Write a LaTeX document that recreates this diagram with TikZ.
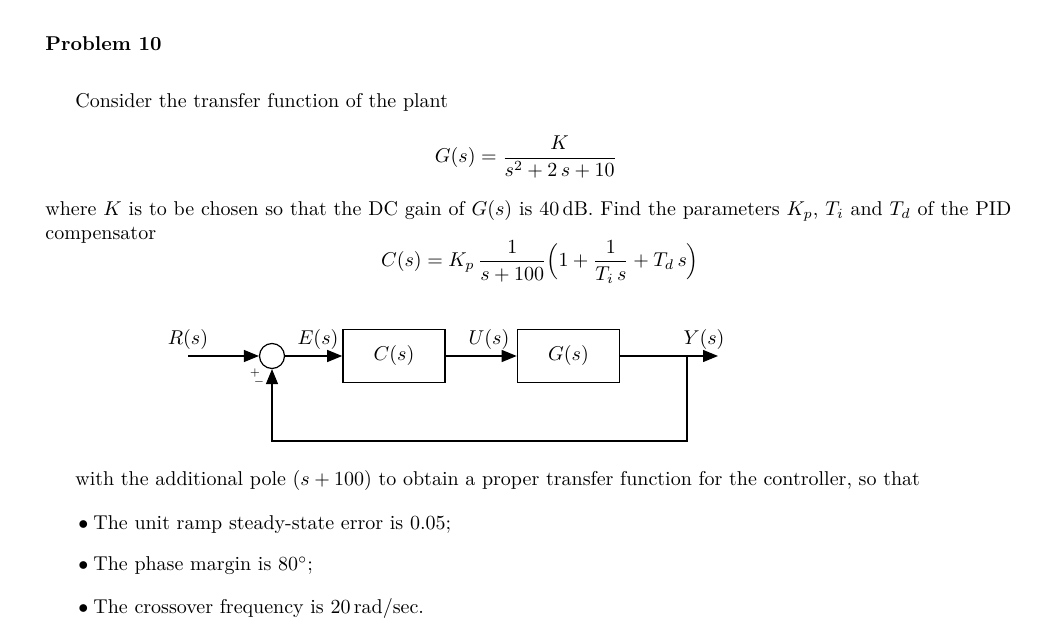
\documentclass[tikz,border=0pt]{standalone}
\usepackage{amsmath}
\usetikzlibrary{arrows.meta}
\begin{document}
\begin{tikzpicture}[x=0.5pt,y=-0.5pt,
  txt/.style={anchor=base west,inner sep=0},
  blk/.style={draw,line width=0.8pt,minimum width=51pt,minimum height=26.5pt,inner sep=0},
  sig/.style={line width=0.6pt},
  arr/.style={sig,-{Triangle[length=7.5pt,width=6pt]}},
  lbl/.style={inner sep=0,anchor=base}]
\useasboundingbox (0,0) rectangle (1050,630);
\node[txt,font=\bfseries] (prob) at (45,51) {Problem 10};
\node[txt] (cons) at (75,108) {Consider the transfer function of the plant};
\node[inner sep=0] (geq) at (526,157) {$\displaystyle G(s)=\frac{K}{s^2+2\,s+10}$};
\node[anchor=north west,text width=483pt,inner sep=0,align=justify] (where) at (45,200)
 {where $K$ is to be chosen so that the DC gain of $G(s)$ is 40\,dB. Find the parameters $K_p$, $T_i$ and $T_d$ of the PID compensator};
\node[inner sep=0] (ceq) at (540,262) {$\displaystyle C(s)=K_p\,\frac{1}{s+100}\Bigl(1+\frac{1}{T_i\,s}+T_d\,s\Bigr)$};
% block diagram
\coordinate (in) at (188,356);
\node[draw,circle,line width=0.6pt,minimum size=12.5pt,inner sep=0] (sum) at (272,356) {};
\node[blk] (C) at (394,356) {$C(s)$};
\node[blk] (G) at (568.5,356) {$G(s)$};
\coordinate (br) at (687,356);
\coordinate (out) at (718,356);
\coordinate (fb1) at (687,441);
\coordinate (fb2) at (272,441);
\draw[arr] (in) -- (sum.west);
\draw[arr] (sum.east) -- (C.west);
\draw[arr] (C.east) -- (G.west);
\draw[arr] (G.east) -- (out);
\draw[arr] (br) -- (fb1) -- (fb2) -- (sum.south);
\node[lbl] (Rl) at (188,345) {$R(s)$};
\node[lbl] (El) at (318,345) {$E(s)$};
\node[lbl] (Ul) at (489,345) {$U(s)$};
\node[lbl] (Yl) at (704,345) {$Y(s)$};
\node[inner sep=0,font=\tiny] (plus) at (255,373) {$+$};
\node[inner sep=0,font=\tiny] (minus) at (259,382) {$-$};
\node[txt] (with) at (75,486) {with the additional pole $(s+100)$ to obtain a proper transfer function for the controller, so that};
\node[txt] (b1) at (78,530) {$\bullet$\hspace{0.25em}The unit ramp steady-state error is 0.05;};
\node[txt] (b2) at (78,571) {$\bullet$\hspace{0.25em}The phase margin is $80^\circ$;};
\node[txt] (b3) at (78,613) {$\bullet$\hspace{0.25em}The crossover frequency is 20\,rad/sec.};
\end{tikzpicture}
\end{document}
